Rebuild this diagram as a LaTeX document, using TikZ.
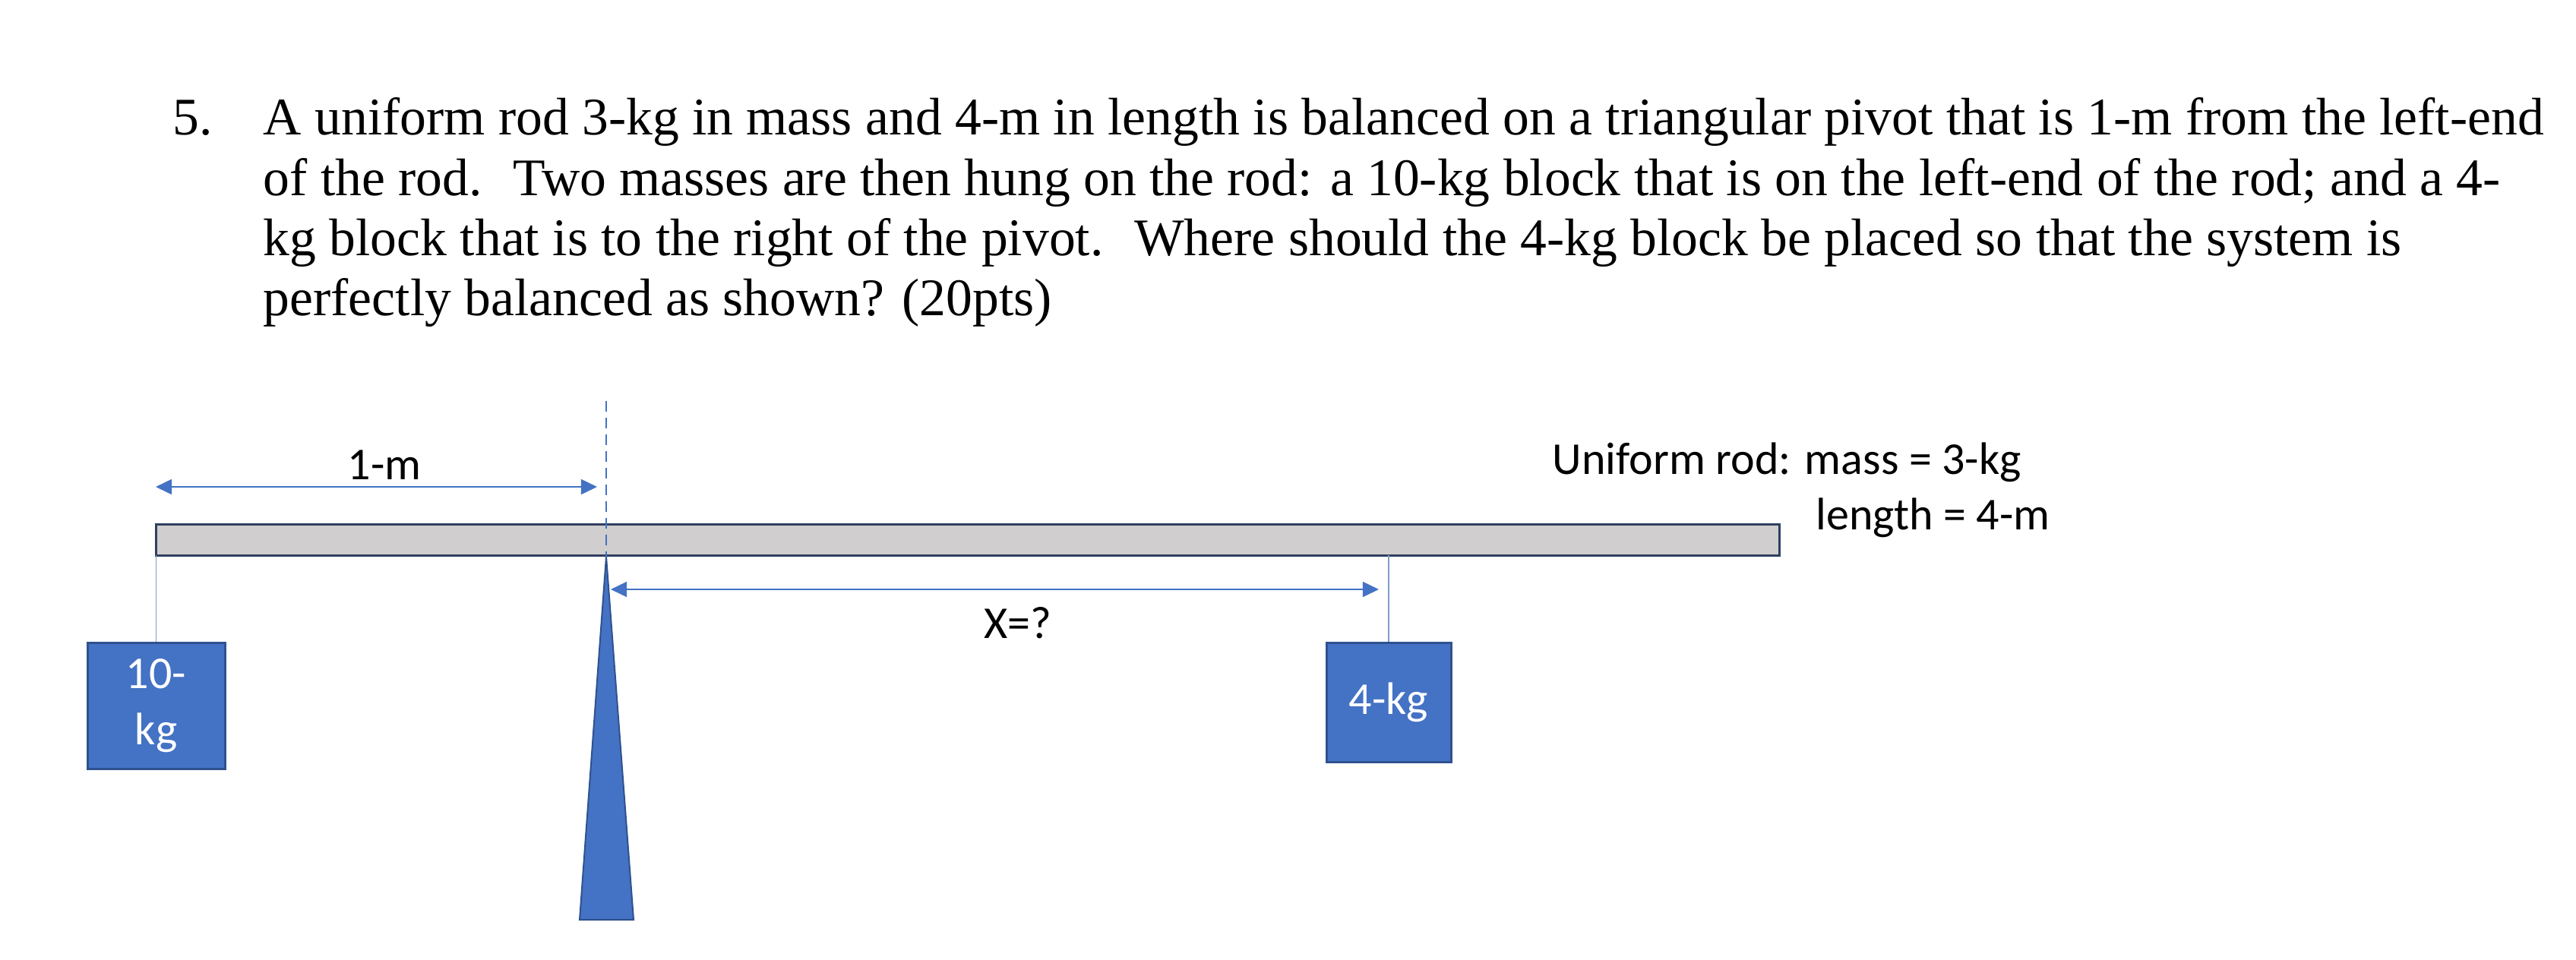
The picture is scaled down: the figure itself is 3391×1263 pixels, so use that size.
\documentclass[tikz,border=0pt]{standalone}
\usepackage{fontspec}
\setmainfont{Liberation Serif}
\newfontfamily\calib{Carlito}
\usetikzlibrary{arrows.meta}
\definecolor{mblue}{HTML}{4472C4}
\definecolor{mdark}{HTML}{2F528F}
\definecolor{rodgray}{HTML}{D0CECE}
\definecolor{roddark}{HTML}{2F3F5F}
\definecolor{hangc}{HTML}{7F9BC8}
\begin{document}
\begin{tikzpicture}[x=0.25pt,y=-0.25pt,
  qtext/.style={anchor=base west,inner sep=0pt,font=\fontsize{17.4}{20}\selectfont},
  lbl/.style={inner sep=0pt,font=\calib\fontsize{15}{18}\selectfont},
  massbox/.style={draw=mdark,fill=mblue,line width=0.75pt,inner sep=0pt,text=white,
    font=\calib\fontsize{15}{18.5}\selectfont,align=center},
  dim/.style={draw=mblue,line width=0.55pt,{Triangle[length=5.3pt,width=5pt]}-{Triangle[length=5.3pt,width=5pt]}},
  hang/.style={draw=hangc,line width=0.45pt},
  pivline/.style={draw=mblue,line width=0.5pt,dash pattern=on 3.5pt off 2pt}]
\useasboundingbox (0,0) rectangle (3391,1263);

% question text
\node[qtext] (qn) at (227,177) {5.};
\node[qtext] (q1) at (346,177) {A uniform rod 3-kg in mass and 4-m in length is balanced on a triangular pivot that is 1-m from the left-end};
\node[qtext] (q2) at (346,257) {of the rod.~ Two masses are then hung on the rod: a 10-kg block that is on the left-end of the rod; and a 4-};
\node[qtext] (q3) at (346,336) {kg block that is to the right of the pivot.~ Where should the 4-kg block be placed so that the system is};
\node[qtext] (q4) at (346,415) {perfectly balanced as shown? (20pts)};

% rod
\node[draw=roddark,fill=rodgray,line width=0.75pt,anchor=north west,inner sep=0pt,outer sep=0pt,
  minimum width=534.25pt,minimum height=10.25pt] (rod) at (205,690) {};

% pivot
\coordinate (apex) at (798,733);
\coordinate (bl) at (763,1211);
\coordinate (br) at (834,1211);
\coordinate (ptop) at (798,528);
\filldraw[fill=mblue,draw=mdark,line width=0.5pt] (apex) -- (bl) -- (br) -- cycle;
\draw[pivline] (ptop) -- (apex);

% masses
\node[massbox,minimum width=45.25pt,minimum height=41.5pt] (m10) at (205.5,929) {10-\\kg};
\node[massbox,minimum width=41pt,minimum height=39.25pt] (m4) at (1828,924.5) {\raisebox{-0.6pt}{4-kg}};
\draw[hang] (m10.north) -- (m10.north |- rod.south);
\draw[hang] (m4.north) -- (m4.north |- rod.south);

% dimension arrows
\coordinate (a1l) at (205,641);
\coordinate (a1r) at (786,641);
\draw[dim] (a1l) -- (a1r);
\coordinate (a2l) at (804,776);
\coordinate (a2r) at (1815,776);
\draw[dim] (a2l) -- (a2r);

% labels
\node[lbl,anchor=base] (l1m) at (506,631) {1-m};
\node[lbl,anchor=base] (lx) at (1340,840) {X=?};
\node[lbl,anchor=base west] (lu) at (2043,624) {Uniform rod: mass = 3-kg};
\node[lbl,anchor=base west] (ll) at (2390,697) {length = 4-m};
\end{tikzpicture}
\end{document}
